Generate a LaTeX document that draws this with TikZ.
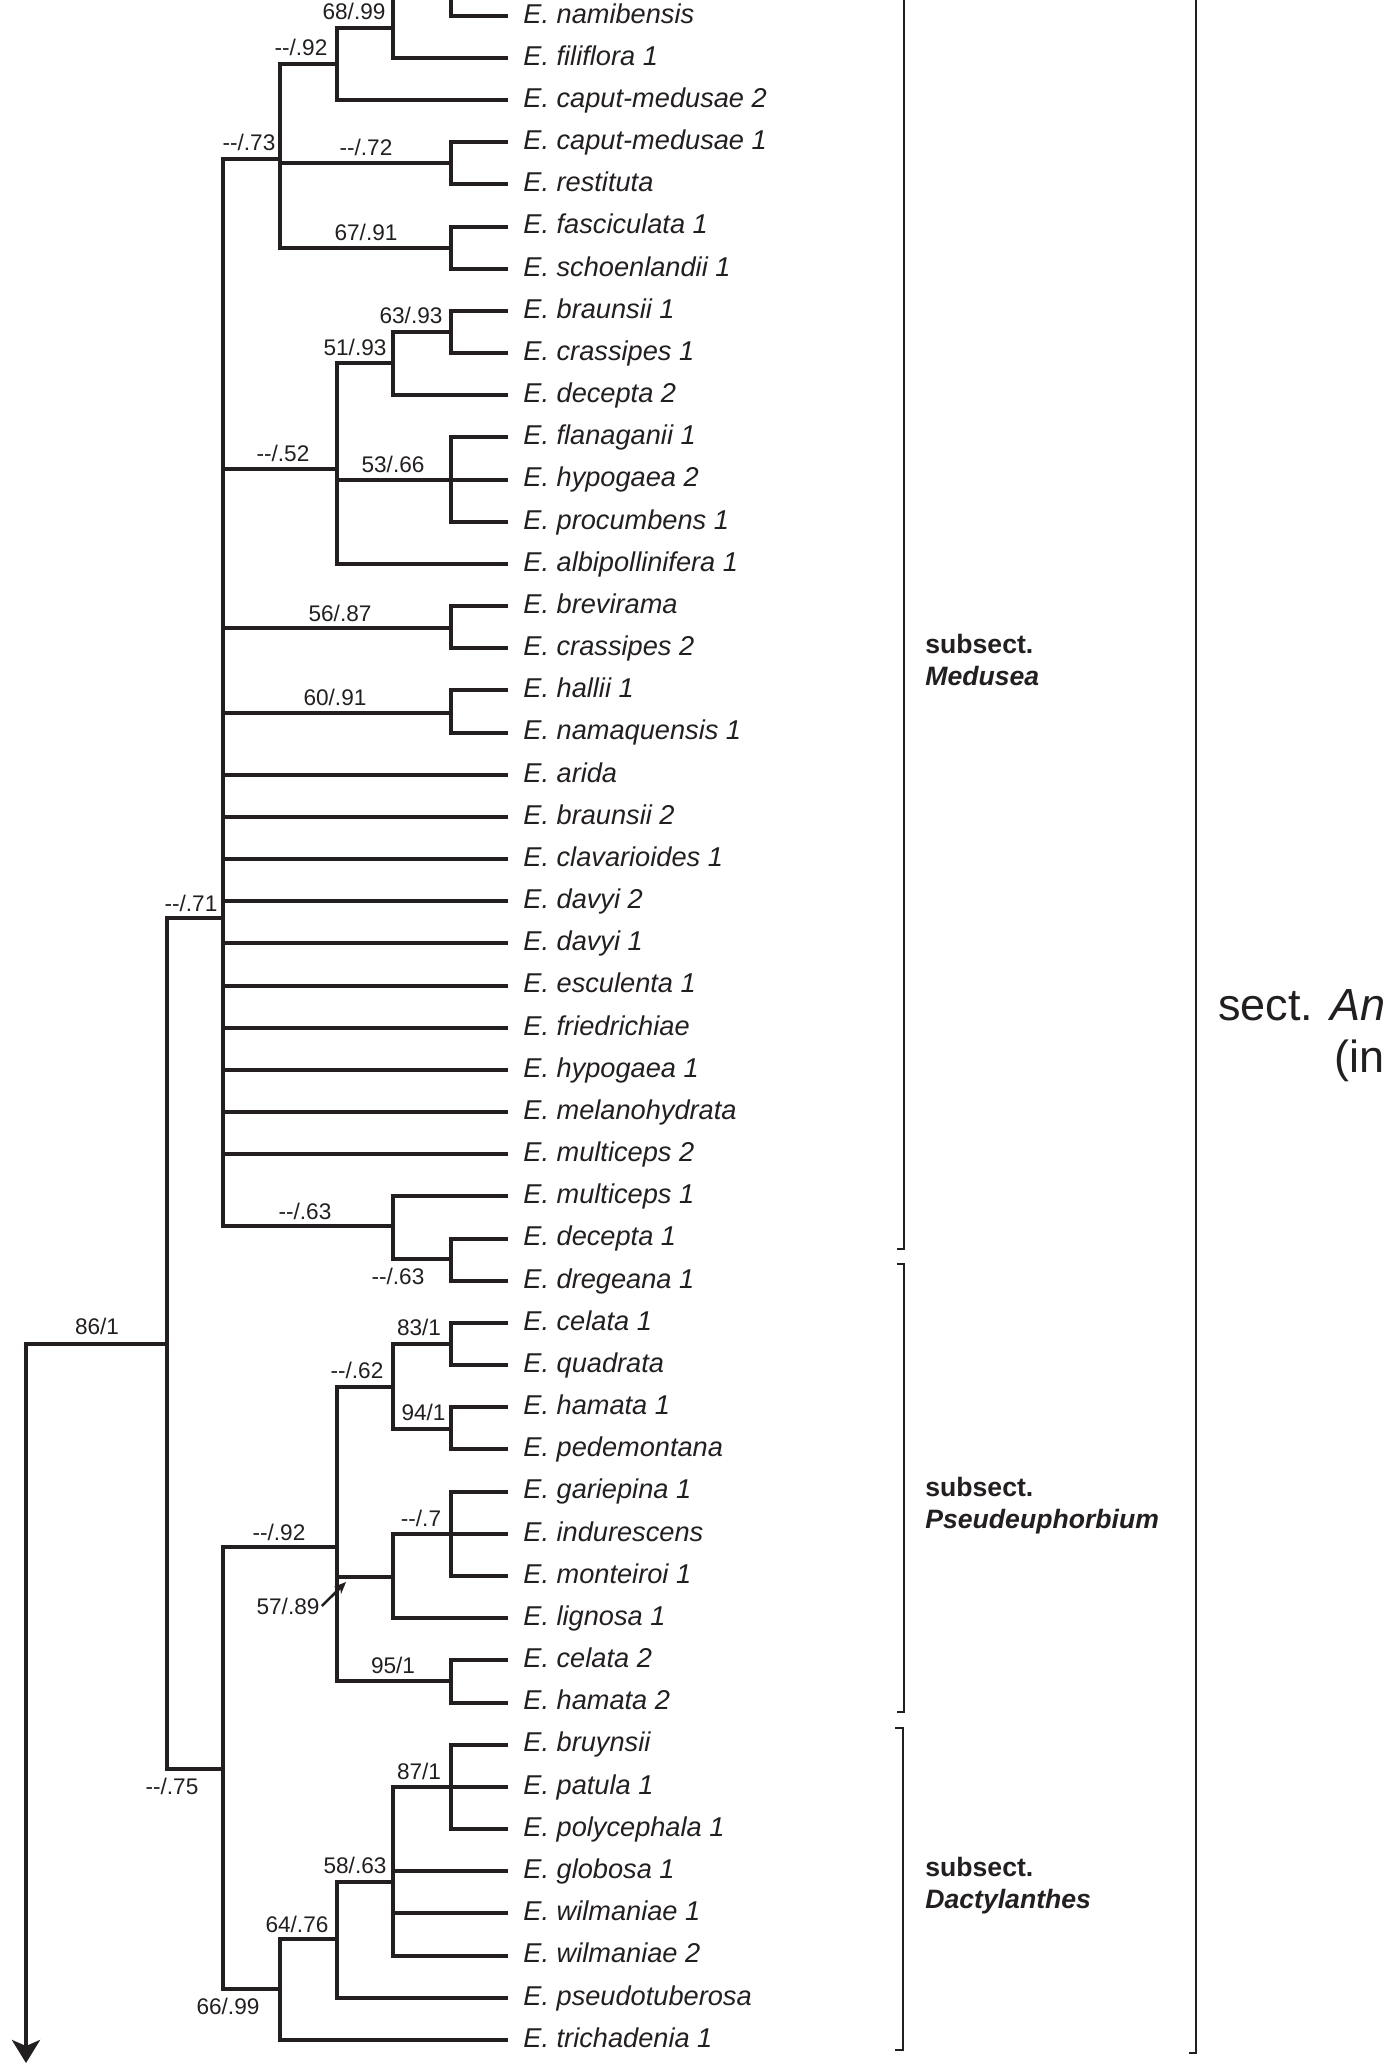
\documentclass[tikz,border=0pt]{standalone}
\usepackage{fontspec}
\setmainfont{Liberation Sans}
\usetikzlibrary{arrows.meta}
\definecolor{inkblk}{HTML}{231F20}
\newcommand{\nd}{-\kern0pt-}

\begin{document}
\begin{tikzpicture}[x=0.5pt, y=-0.5pt,
  branch/.style={inkblk, line width=2pt},
  tip/.style={anchor=west, inner xsep=7.5pt, inner ysep=0pt,
    text height=10pt, text depth=2.7pt, text=inkblk,
    font=\fontsize{13.6}{16}\selectfont\itshape},
  supp/.style={inner sep=1pt, text height=8.1pt, text depth=0pt, text=inkblk,
    font=\fontsize{11.3}{13}\selectfont},
  brack/.style={inkblk, line width=1.2pt},
  subsect/.style={anchor=base west, inner sep=0pt, text=inkblk,
    font=\fontsize{13.3}{15}\selectfont\bfseries},
  sectlab/.style={anchor=base west, inner sep=0pt, text=inkblk,
    font=\fontsize{22.5}{26}\selectfont}]

% Frame
\fill[white] (0,0) rectangle (1383,2067);
\useasboundingbox (0,0) rectangle (1383,2067);

% ================================================================
% Tips
% ================================================================
\foreach \nm [count=\r from 0] in {namibensis, filiflora 1, caput-medusae 2,
    caput-medusae 1, restituta, fasciculata 1, schoenlandii 1, braunsii 1,
    crassipes 1, decepta 2, flanaganii 1, hypogaea 2, procumbens 1,
    albipollinifera 1, brevirama, crassipes 2, hallii 1, namaquensis 1, arida,
    braunsii 2, clavarioides 1, davyi 2, davyi 1, esculenta 1, friedrichiae,
    hypogaea 1, melanohydrata, multiceps 2, multiceps 1, decepta 1,
    dregeana 1, celata 1, quadrata, hamata 1, pedemontana, gariepina 1,
    indurescens, monteiroi 1, lignosa 1, celata 2, hamata 2, bruynsii,
    patula 1, polycephala 1, globosa 1, wilmaniae 1, wilmaniae 2,
    pseudotuberosa, trichadenia 1}
  \node[tip] (e\r) at (508, {15.7+42.17*\r}) {E. \nm};

% ================================================================
% Internal nodes
% ================================================================
% cut-off clade above the top edge
\coordinate (topA) at (393,-5);
\coordinate (topB) at (451,-5);
% subsect. Medusea
\coordinate (n6899) at (393,27.7);
\coordinate (n92a)  at (337,64.3);
\coordinate (n72)   at (451,163.3);
\coordinate (n6791) at (451,247.7);
\coordinate (n73)   at (280,159);
\coordinate (n6393) at (451,332.3);
\coordinate (n5193) at (393,363.3);
\coordinate (n5366) at (451,480);
\coordinate (n52)   at (337,469.3);
\coordinate (n5687) at (451,628.3);
\coordinate (n6091) at (451,713.3);
\coordinate (n63b)  at (451,1259.3);
\coordinate (n63a)  at (393,1226);
\coordinate (n71)   at (223,918.3);
% subsect. Pseudeuphorbium
\coordinate (n831)  at (451,1344);
\coordinate (n941)  at (451,1429.3);
\coordinate (n62)   at (393,1386.7);
\coordinate (n7)    at (451,1534);
\coordinate (n5789) at (393,1576.7);
\coordinate (n951)  at (451,1681);
\coordinate (n92b)  at (337,1547.3);
% subsect. Dactylanthes
\coordinate (n871)  at (451,1787.3);
\coordinate (n5863) at (393,1881.7);
\coordinate (n6476) at (337,1939.3);
\coordinate (n6699) at (280,1989.3);
\coordinate (n75)   at (223,1769);
% root
\coordinate (n861)  at (167,1344);
\coordinate (rootend) at (26,2063);

% ================================================================
% Branches
% ================================================================
\draw[branch] (topB) |- (e0.west);
\draw[branch] (topA) |- (e1.west);
\draw[branch] (n92a) |- (n6899);
\draw[branch] (n92a) |- (e2.west);
\foreach \c in {n92a, n72, n6791} \draw[branch] (n73) |- (\c);
\foreach \c in {3,4} \draw[branch] (n72) |- (e\c.west);
\foreach \c in {5,6} \draw[branch] (n6791) |- (e\c.west);
\foreach \c in {7,8} \draw[branch] (n6393) |- (e\c.west);
\draw[branch] (n5193) |- (n6393);
\draw[branch] (n5193) |- (e9.west);
\foreach \c in {10,11,12} \draw[branch] (n5366) |- (e\c.west);
\draw[branch] (n52) |- (n5193);
\draw[branch] (n52) |- (n5366);
\draw[branch] (n52) |- (e13.west);
\foreach \c in {14,15} \draw[branch] (n5687) |- (e\c.west);
\foreach \c in {16,17} \draw[branch] (n6091) |- (e\c.west);
\foreach \c in {29,30} \draw[branch] (n63b) |- (e\c.west);
\draw[branch] (n63a) |- (e28.west);
\draw[branch] (n63a) |- (n63b);
\foreach \c in {n73, n52, n5687, n6091, n63a} \draw[branch] (n71) |- (\c);
\foreach \c in {18,...,27} \draw[branch] (n71) |- (e\c.west);

\foreach \c in {31,32} \draw[branch] (n831) |- (e\c.west);
\foreach \c in {33,34} \draw[branch] (n941) |- (e\c.west);
\draw[branch] (n62) |- (n831);
\draw[branch] (n62) |- (n941);
\foreach \c in {35,36,37} \draw[branch] (n7) |- (e\c.west);
\draw[branch] (n5789) |- (n7);
\draw[branch] (n5789) |- (e38.west);
\foreach \c in {39,40} \draw[branch] (n951) |- (e\c.west);
\foreach \c in {n62, n5789, n951} \draw[branch] (n92b) |- (\c);

\foreach \c in {41,42,43} \draw[branch] (n871) |- (e\c.west);
\draw[branch] (n5863) |- (n871);
\foreach \c in {44,45,46} \draw[branch] (n5863) |- (e\c.west);
\draw[branch] (n6476) |- (n5863);
\draw[branch] (n6476) |- (e47.west);
\draw[branch] (n6699) |- (n6476);
\draw[branch] (n6699) |- (e48.west);
\draw[branch] (n75) |- (n92b);
\draw[branch] (n75) |- (n6699);

\draw[branch] (n861) |- (n71);
\draw[branch] (n861) |- (n75);
\draw[branch, -{Stealth[length=11.5pt, width=14pt, inset=3pt]}] (n861) -| (rootend);

% ================================================================
% Support values
% ================================================================
\node[supp] (s6899) at (354,11.5)   {68/.99};
\node[supp] (s92a)  at (301,47.3)   {\nd/.92};
\node[supp] (s73)   at (249,142.3)  {\nd/.73};
\node[supp] (s72)   at (366,147.3)  {\nd/.72};
\node[supp] (s6791) at (366,232.3)  {67/.91};
\node[supp] (s6393) at (411,315.7)  {63/.93};
\node[supp] (s5193) at (355,347.7)  {51/.93};
\node[supp] (s52)   at (283,453)    {\nd/.52};
\node[supp] (s5366) at (393,464)    {53/.66};
\node[supp] (s5687) at (340,613.3)  {56/.87};
\node[supp] (s6091) at (335,697.3)  {60/.91};
\node[supp] (s71)   at (191,903)    {\nd/.71};
\node[supp] (s63a)  at (305,1211.7) {\nd/.63};
\node[supp] (s63b)  at (398,1276)   {\nd/.63};
\node[supp] (s861)  at (97,1326.7)  {86/1};
\node[supp] (s831)  at (419,1327.7) {83/1};
\node[supp] (s62)   at (357,1370.7) {\nd/.62};
\node[supp] (s941)  at (423.5,1412.3) {94/1};
\node[supp] (s7)    at (421,1518.3) {\nd/.7};
\node[supp] (s92b)  at (279,1532.3) {\nd/.92};
\node[supp] (s5789) at (288,1606)   {57/.89};
\node[supp] (s951)  at (393,1665)   {95/1};
\node[supp] (s75)   at (172,1786)   {\nd/.75};
\node[supp] (s871)  at (419,1771.7) {87/1};
\node[supp] (s5863) at (355,1865.7) {58/.63};
\node[supp] (s6476) at (297,1924)   {64/.76};
\node[supp] (s6699) at (228,2006)   {66/.99};

% pointer for 57/.89
\coordinate (a5789) at (346,1582);
\draw[inkblk, line width=1.3pt, -{Stealth[length=6pt, width=5pt]}] (s5789.east) -- (a5789);

% ================================================================
% Brackets and group names
% ================================================================
\draw[brack] (904,-5) -- (904,1249) -- (897,1249);
\draw[brack] (897,1264) -- (904,1264) -- (904,1712) -- (897,1712);
\draw[brack] (895,1728) -- (903,1728) -- (903,2050) -- (895,2050);
\draw[brack] (1196,-5) -- (1196,2053) -- (1189,2053);

\node[subsect] (medA) at (925,653)  {subsect.};
\node[subsect] (medB) at (925,685)  {\itshape Medusea};
\node[subsect] (psuA) at (925,1496) {subsect.};
\node[subsect] (psuB) at (925,1528) {\itshape Pseudeuphorbium};
\node[subsect] (dacA) at (925,1876) {subsect.};
\node[subsect] (dacB) at (925,1908) {\itshape Dactylanthes};

\node[sectlab] (secA) at (1218,1020) {sect. \textit{An}};
\node[sectlab] (secB) at (1334,1072) {(in};

\end{tikzpicture}
\end{document}
